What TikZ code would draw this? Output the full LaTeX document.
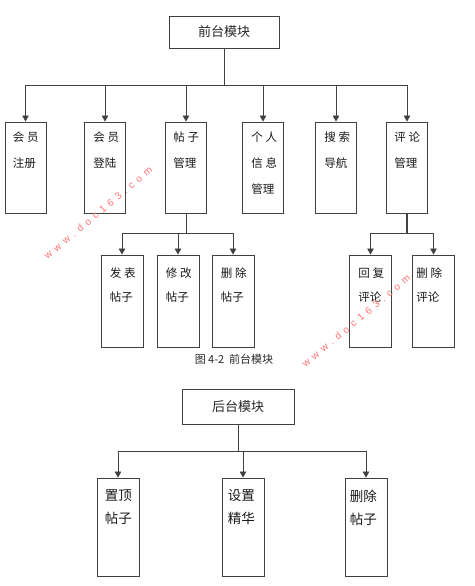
\documentclass[tikz,border=0pt]{standalone}
\usepackage{fontspec}
\newfontfamily\cjk{Noto Sans CJK SC}
\newfontfamily\wmfont{Liberation Sans}
\usetikzlibrary{arrows.meta}
\tikzset{
  box/.style={draw=black!75, line width=0.9pt, fill=white, inner sep=0pt},
  conn/.style={draw=black!75, line width=0.8pt},
  arr/.style={conn, -{Triangle[width=6.5pt,length=6pt]}},
  txt/.style={anchor=north west, align=left, inner sep=0pt, text=black!90},
  lvltxt/.style={txt, font=\cjk\fontsize{11.5pt}{26pt}\selectfont},
  subtxt/.style={txt, font=\cjk\fontsize{11.5pt}{24pt}\selectfont},
  bottxt/.style={txt, font=\cjk\fontsize{13.5pt}{23pt}\selectfont},
  wm/.style={text=red!55!white, font=\wmfont\fontsize{10pt}{10pt}\selectfont, rotate=40, inner sep=0pt}
}
\newcommand{\wmstr}{w\kern4.5pt w\kern4.5pt w\kern4.5pt .\kern4.5pt d\kern4.5pt o\kern4.5pt c\kern4.5pt 1\kern4.5pt 6\kern4.5pt 3\kern4.5pt .\kern4.5pt c\kern4.5pt o\kern4.5pt m}
\begin{document}
\begin{tikzpicture}[x=1pt,y=-1pt]
\useasboundingbox (0,0) rectangle (474,586);
% ---------- front module ----------
\node[box, minimum width=110pt, minimum height=32pt, font=\cjk\fontsize{13pt}{13pt}\selectfont, text=black!85] (top) at (224,32) {前台模块};
\coordinate (bus1) at (0,85);
\foreach \n/\x in {b1/25.5, b2/105, b3/186, b4/263, b5/336, b6/407}{
  \node[box, minimum width=41pt, minimum height=91pt] (\n) at (\x,167.5) {};
}
\node[lvltxt] (t1) at ([xshift=8pt,yshift=-10.5pt]b1.north west) {会\hspace{3pt}员\\注册};
\node[lvltxt] (t2) at ([xshift=9pt,yshift=-10.5pt]b2.north west) {会\hspace{3pt}员\\登陆};
\node[lvltxt] (t3) at ([xshift=8pt,yshift=-10.5pt]b3.north west) {帖\hspace{3pt}子\\管理};
\node[lvltxt] (t4) at ([xshift=9pt,yshift=-10.5pt]b4.north west) {个\hspace{3pt}人\\信\hspace{3pt}息\\管理};
\node[lvltxt] (t5) at ([xshift=9pt,yshift=-10.5pt]b5.north west) {搜\hspace{3pt}索\\导航};
\node[lvltxt] (t6) at ([xshift=8pt,yshift=-10.5pt]b6.north west) {评\hspace{3pt}论\\管理};
\draw[conn] (top.south) -- (top.south |- bus1);
\draw[conn] (b1.north |- bus1) -- (b6.north |- bus1);
\foreach \n in {b1,b2,b3,b4,b5,b6}{
  \draw[arr] (\n.north |- bus1) -- (\n.north);
}
% ---------- second level ----------
\coordinate (bus2) at (0,233);
\foreach \n/\x in {c1/122, c2/178, c3/233, d1/370.5, d2/433.5}{
  \node[box, minimum width=42pt, minimum height=92pt] (\n) at (\x,301) {};
}
\node[subtxt] (u1) at ([xshift=9pt,yshift=-13pt]c1.north west) {发\hspace{3pt}表\\帖子};
\node[subtxt] (u2) at ([xshift=9pt,yshift=-13pt]c2.north west) {修\hspace{3pt}改\\帖子};
\node[subtxt] (u3) at ([xshift=9pt,yshift=-13pt]c3.north west) {删\hspace{3pt}除\\帖子};
\node[subtxt] (u4) at ([xshift=9pt,yshift=-13pt]d1.north west) {回\hspace{3pt}复\\评论};
\node[subtxt] (u5) at ([xshift=4pt,yshift=-13pt]d2.north west) {删\hspace{3pt}除\\评论};
\draw[conn] (b3.south) -- (b3.south |- bus2);
\draw[conn] (c1.north |- bus2) -- (c3.north |- bus2);
\draw[conn, line width=1.2pt] (b6.south) -- (b6.south |- bus2);
\draw[conn] (d1.north |- bus2) -- (d2.north |- bus2);
\foreach \n in {c1,c2,c3,d1,d2}{
  \draw[arr] (\n.north |- bus2) -- (\n.north);
}
\node[font=\cjk\fontsize{11pt}{11pt}\selectfont, text=black!85] (cap) at (234,359) {图 4-2\hspace{5pt}前台模块};
% ---------- back module ----------
\node[box, minimum width=112pt, minimum height=35pt, font=\cjk\fontsize{13pt}{13pt}\selectfont, text=black!85] (back) at (238,406.5) {后台模块};
\coordinate (bus3) at (0,451);
\foreach \n/\x in {e1/118, e2/243, e3/366}{
  \node[box, minimum width=42pt, minimum height=98pt] (\n) at (\x,527) {};
}
\node[bottxt] (v1) at ([xshift=8pt,yshift=-12pt]e1.north west) {置顶\\帖子};
\node[bottxt] (v2) at ([xshift=6pt,yshift=-12pt]e2.north west) {设置\\精华};
\node[bottxt] (v3) at ([xshift=5pt,yshift=-12pt]e3.north west) {删除\\帖子};
\draw[conn] (back.south) -- (back.south |- bus3);
\draw[conn] (e1.north |- bus3) -- (e3.north |- bus3);
\foreach \n in {e1,e2,e3}{
  \draw[arr] (\n.north |- bus3) -- (\n.north);
}
% ---------- watermarks ----------
\node[wm] (w1) at (98,213) {\wmstr};
\node[wm] (w2) at (356,321) {\wmstr};
\end{tikzpicture}
\end{document}
